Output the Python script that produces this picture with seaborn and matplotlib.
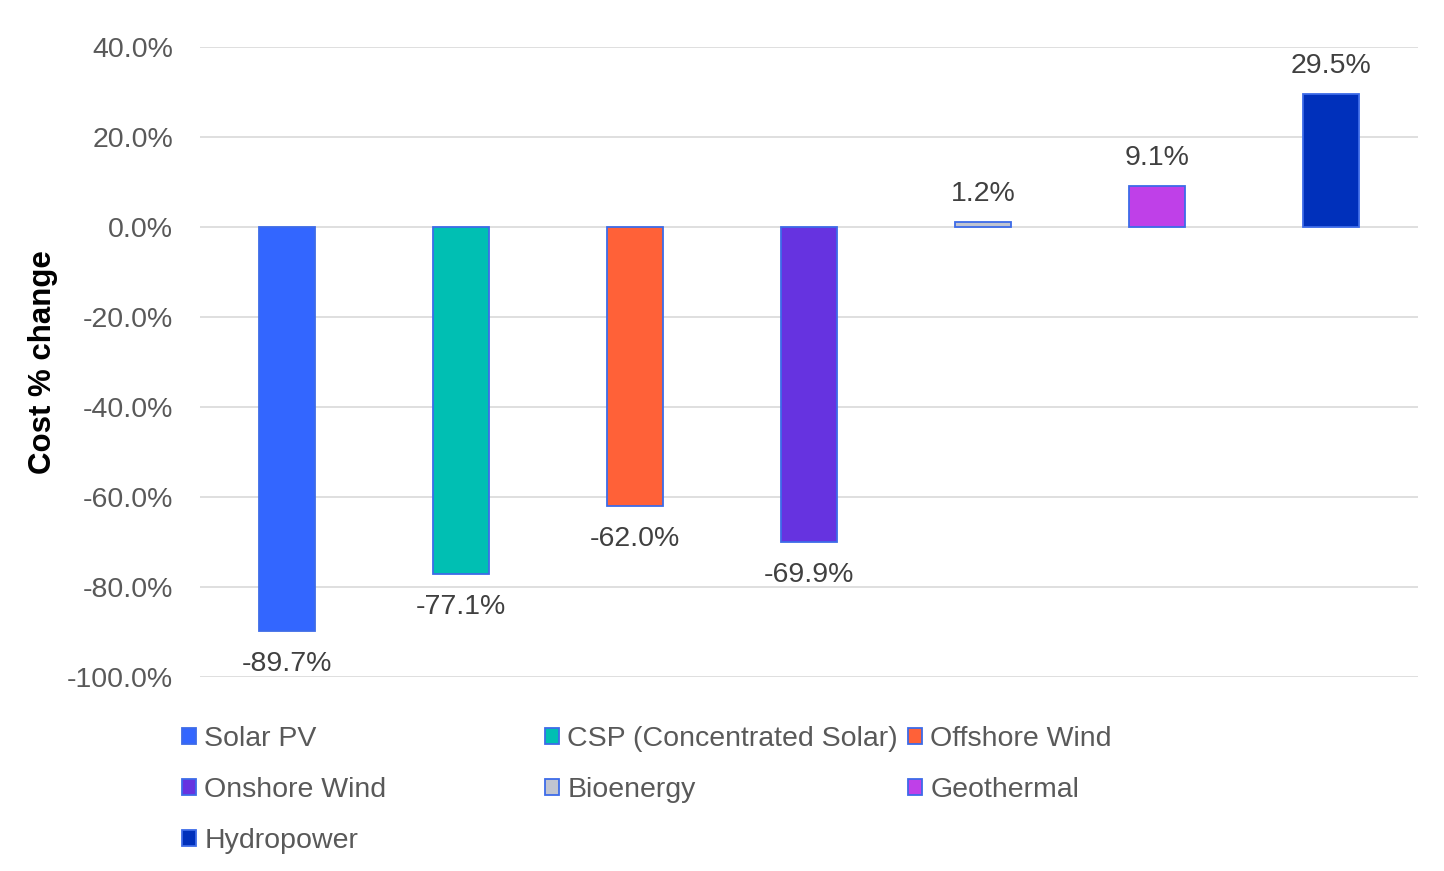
import matplotlib
matplotlib.use("Agg")
import matplotlib.pyplot as plt
import seaborn as sns
import pandas as pd
from matplotlib.patches import Patch

categories = ["Solar PV", "CSP (Concentrated Solar)", "Offshore Wind", "Onshore Wind",
              "Bioenergy", "Geothermal", "Hydropower"]
values = [-89.7, -77.1, -62.0, -69.9, 1.2, 9.1, 29.5]
colors = ["#3366FF", "#00BFB3", "#FF6138", "#6633E0", "#C0C4D0", "#BF40E8", "#0030BB"]
yticks = [40, 20, 0, -20, -40, -60, -80, -100]

sns.set_theme(style="white")
plt.rcParams['font.family'] = ['Liberation Sans', 'DejaVu Sans']

df = pd.DataFrame({"category": categories, "value": values})

fig = plt.figure(figsize=(14.44, 8.71), dpi=100)
ax = fig.add_axes([200/1444, 1-677/871, 1218/1444, 630/871])

edge = "#3D6BE8"
sns.barplot(data=df, x="category", y="value", hue="category", palette=colors,
            saturation=1, dodge=False, width=0.32, edgecolor=edge, linewidth=1.3,
            legend=False, ax=ax, zorder=3)

ax.set_ylim(-100, 40)
ax.set_yticks(yticks)
ax.set_yticklabels([f"{t:.1f}%" for t in yticks], fontsize=20.5, color="#595959")
ax.tick_params(axis='y', length=0, pad=19.5)
ax.set_xticks([])
ax.set_xlabel("")
ax.set_ylabel("Cost % change", fontsize=22.5, fontweight="bold", color="black")
ax.yaxis.set_label_coords(-0.1166, 0.5)
ax.yaxis.grid(True, color="#D9D9D9", linewidth=1.2, zorder=0)
for s in ax.spines.values():
    s.set_visible(False)

for i, v in enumerate(values):
    if v < 0:
        ax.annotate(f"{v:.1f}%", (i, v), xytext=(0, -24), textcoords="offset points",
                    ha="center", va="center", fontsize=20.5, color="#404040")
    else:
        ax.annotate(f"{v:.1f}%", (i, v), xytext=(0, 20), textcoords="offset points",
                    ha="center", va="center", fontsize=20.5, color="#404040")

# legend in three columns (row-major order like reference)
col_x = [182/1444, 545/1444, 908/1444]
cols = [[0, 3, 6], [1, 4], [2, 5]]
for cx, idxs in zip(col_x, cols):
    handles = [Patch(facecolor=colors[i], edgecolor=edge, linewidth=1.3, label=categories[i]) for i in idxs]
    leg = fig.legend(handles=handles, loc="upper left", bbox_to_anchor=(cx, 1-726/871),
                     frameon=False, fontsize=20.5, handlelength=0.5, handleheight=0.5,
                     handletextpad=0.28, labelspacing=0.88, borderaxespad=0, borderpad=0)
    for t in leg.get_texts():
        t.set_color("#595959")

fig.savefig("out.png", dpi=100)
